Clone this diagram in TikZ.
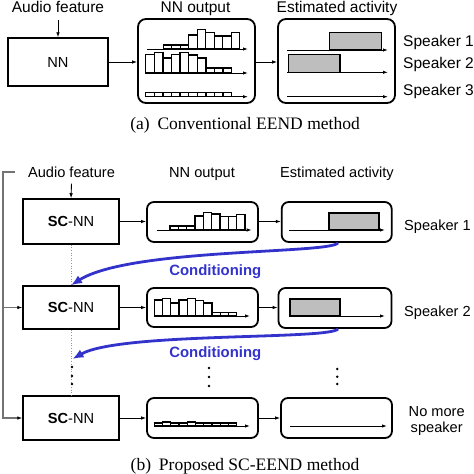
\documentclass[tikz,border=0pt]{standalone}
\usepackage{fontspec}
\setmainfont{Liberation Serif}
\newfontfamily\arialf{Liberation Sans}
\usetikzlibrary{arrows.meta,calc}
\definecolor{condblue}{RGB}{51,51,204}
\definecolor{actgray}{RGB}{190,190,190}
\definecolor{linegray}{RGB}{115,115,115}
\definecolor{dotgray}{RGB}{150,150,150}
\newcommand\barsrow[4]{\foreach \hh [count=\ii from 0] in {#4} {\draw[barbox] ({#1+\ii*#3},#2) rectangle ++(#3,-\hh);}}
\begin{document}
\begin{tikzpicture}[x=1pt,y=-1pt,
  lab/.style={inner sep=0pt, font=\arialf\fontsize{15.5}{18}\selectfont},
  labb/.style={inner sep=0pt, font=\arialf\fontsize{14.6}{17}\selectfont},
  capt/.style={inner sep=0pt, font=\fontsize{17.5}{20}\selectfont},
  nnbox/.style={draw, line width=1.5pt, inner sep=0pt, font=\arialf\fontsize{14.6}{17}\selectfont},
  outbox/.style={draw, line width=1.8pt, rounded corners=8pt, inner sep=0pt},
  arr/.style={-{Latex[length=5pt,width=3.6pt]}, line width=0.9pt},
  axarr/.style={-{Latex[length=5pt,width=3.4pt]}, line width=0.9pt},
  barbox/.style={draw, line width=1.3pt, fill=white},
  actbox/.style={draw, line width=1.4pt, fill=actgray},
  condarr/.style={-{Latex[length=11pt,width=9pt]}, line width=2.8pt, draw=condblue},
  condlab/.style={inner sep=0pt, text=condblue, font=\arialf\bfseries\fontsize{14.9}{17}\selectfont},
  grayline/.style={draw=linegray, line width=1.6pt},
  dotline/.style={draw=dotgray, line width=0.6pt, dotted},
  vdot/.style={fill=black, draw=none}
]
\useasboundingbox (0,0) rectangle (474,474);

% ---------------- (a) conventional ----------------
\node[lab, anchor=base] (labA) at (58,12.7) {Audio feature};
\node[lab, anchor=base] (labOutA) at (195.5,12.7) {NN output};
\node[lab, anchor=base] (labEstA) at (337,12.7) {Estimated activity};

\node[nnbox, minimum width=100pt, minimum height=48pt] (nnA) at (58,62) {NN};
\node[outbox, minimum width=117pt, minimum height=84pt] (outA) at (196.5,61) {};
\node[outbox, minimum width=117pt, minimum height=84pt] (estA) at (336.5,61) {};

\draw[arr] ([yshift=-7pt]labA.south) -- (nnA.north);
\draw[arr] (nnA.east) -- (nnA.east -| outA.west);
\draw[arr] (nnA.east -| outA.east) -- (nnA.east -| estA.west);

% NN output bars (a)
\draw[axarr] (147,49) -- (248,49);
\barsrow{163.3}{49}{8.5}{4,4,4,14,19.5,16.5,13,13,16.5}
\draw[axarr] (145.7,73) -- (248,73);
\barsrow{145.7}{73}{8.6}{18.5,20.5,15,18.5,20.5,18,15,5,5,5}
\draw[axarr] (145.7,96.7) -- (248,96.7);
\barsrow{145.7}{96.7}{8.6}{4,4,4,4,4,4,4,4,4,4}

% estimated activity (a)
\draw[actbox] (329.3,32.3) rectangle (381.7,50);
\draw[axarr] (287,50) -- (388,50);
\draw[actbox] (288.3,54.3) rectangle (340,72.3);
\draw[axarr] (287,72.3) -- (388,72.3);
\draw[axarr] (287,96.7) -- (388,96.7);

\node[lab, anchor=base west] (spkA1) at (403,46.7) {Speaker 1};
\node[lab, anchor=base west] (spkA2) at (403,68.3) {Speaker 2};
\node[lab, anchor=base west] (spkA3) at (403,95) {Speaker 3};

\node[capt, anchor=base] (captA) at (245,129.3) {(a)\hspace{0.45em}Conventional EEND method};

% ---------------- (b) proposed ----------------
\node[labb, anchor=base] (labB) at (71.5,177.7) {Audio feature};
\node[labb, anchor=base] (labOutB) at (202,177.7) {NN output};
\node[labb, anchor=base] (labEstB) at (337,177.7) {Estimated activity};

\node[nnbox, minimum width=96pt, minimum height=45pt] (sc1) at (71,221.5) {\textbf{SC}-NN};
\node[outbox, rounded corners=7pt, minimum width=111pt, minimum height=40pt] (out1) at (202.5,222) {};
\node[outbox, rounded corners=7pt, minimum width=110pt, minimum height=40pt] (est1) at (336.7,222) {};

\node[nnbox, minimum width=96pt, minimum height=43pt] (sc2) at (71,307.5) {\textbf{SC}-NN};
\node[outbox, rounded corners=7pt, minimum width=111pt, minimum height=39pt] (out2) at (202.5,307.5) {};
\node[outbox, rounded corners=7pt, minimum width=113pt, minimum height=40pt] (est2) at (335,308) {};

\node[nnbox, minimum width=96pt, minimum height=44pt] (sc3) at (71,418) {\textbf{SC}-NN};
\node[outbox, rounded corners=7pt, minimum width=111pt, minimum height=40pt] (out3) at (202.5,418) {};
\node[outbox, rounded corners=7pt, minimum width=111pt, minimum height=40pt] (est3) at (336.5,418) {};

\draw[arr] ([yshift=-5.5pt]labB.south) -- (sc1.north);
\draw[arr] (sc1.east) -- (sc1.east -| out1.west);
\draw[arr] (sc1.east -| out1.east) -- (sc1.east -| est1.west);
\draw[arr] (sc2.east) -- (sc2.east -| out2.west);
\draw[arr] (sc2.east -| out2.east) -- (sc2.east -| est2.west);
\draw[arr] (sc3.east) -- (sc3.east -| out3.west);
\draw[arr] (sc3.east -| out3.east) -- (sc3.east -| est3.west);

% NN output bars (b)
\draw[axarr] (156.7,230) -- (251.7,230);
\barsrow{170}{230}{8.33}{4,4,4,14,17.7,16,13.3,13.3,15.7}
\draw[axarr] (154,316) -- (250,316);
\barsrow{154.3}{316}{8.24}{16,17.8,13,16,17.8,15.7,13,3.3,3.3,3.3}
\draw[axarr] (154,426) -- (250,426);
\barsrow{154.3}{426}{8.24}{3,4,3,3,4,3,3,3,3,3}

% estimated activity (b)
\draw[actbox] (329,213) rectangle (379,230);
\draw[axarr] (289,230) -- (385,230);
\draw[actbox] (290,299) rectangle (340,316);
\draw[axarr] (290,316) -- (385,316);
\draw[axarr] (290,426) -- (387,426);

\node[labb, anchor=base west] (spkB1) at (404,230) {Speaker 1};
\node[labb, anchor=base west] (spkB2) at (404,316.7) {Speaker 2};
\node[labb, anchor=base] (nomore1) at (436.7,416.7) {No more};
\node[labb, anchor=base] (nomore2) at (436.7,432.7) {speaker};

% left feed line
\coordinate (feedTop) at (15,171.7);
\coordinate (feedCorner) at (3,171.7);
\draw[grayline] (feedTop) -- (feedCorner) |- ([xshift=-4pt]sc3.west);
\draw[grayline] (feedCorner |- sc2.west) -- ([xshift=-4pt]sc2.west);
\draw[arr, draw=linegray, -{Latex[length=5pt,width=3.6pt,color=black]}] ([xshift=-8pt]sc2.west) -- (sc2.west);
\draw[arr, draw=linegray, -{Latex[length=5pt,width=3.6pt,color=black]}] ([xshift=-8pt]sc3.west) -- (sc3.west);

% dotted links
\draw[dotline] (sc1.south) -- (sc2.north);
\draw[dotline] (sc2.south) -- (sc3.north);

% vertical ellipses
\foreach \yy in {367,376,384} \fill[vdot] (72,\yy) circle (1.4pt);
\foreach \yy in {368,377,386} \fill[vdot] (209,\yy) circle (1.4pt);
\foreach \yy in {369,376.7,384} \fill[vdot] (337.3,\yy) circle (1.4pt);

% conditioning arrows
\coordinate (cond2end) at (72.5,359);
\draw[condarr] ([xshift=1.3pt]est1.south) .. controls (330,254) and (130,248) .. (sc2.north);
\draw[condarr] ([xshift=3pt]est2.south) .. controls (330,340) and (120,332) .. (cond2end);
\node[condlab, anchor=base] (cond1) at (215.3,275) {Conditioning};
\node[condlab, anchor=base] (cond2) at (215.3,357) {Conditioning};

\node[capt, anchor=base] (captB) at (245,470) {(b)\hspace{0.45em}Proposed SC-EEND method};
\end{tikzpicture}
\end{document}
